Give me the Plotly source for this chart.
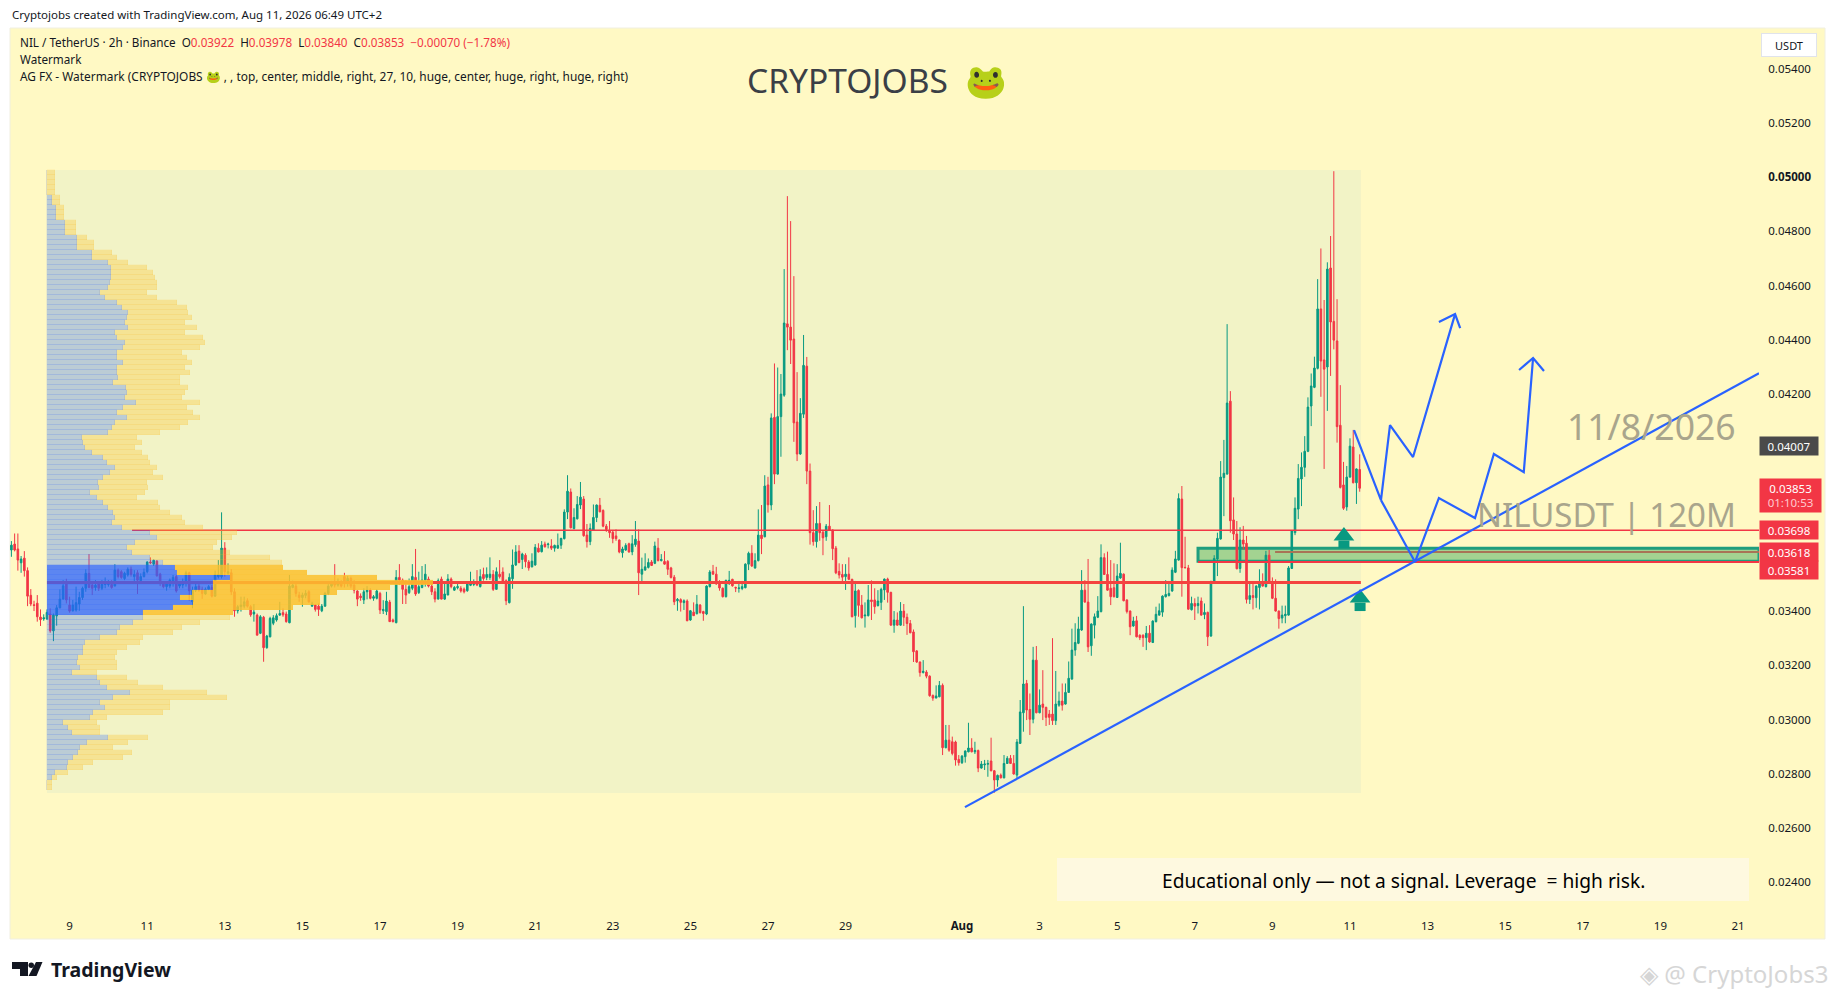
import pandas as pd
import plotly.graph_objects as go

# 2h candles, prices in 1e-5 USDT
opens = [
    3625,3647,3629,3578,3595,3549,3458,3423,3429,3378,
    3371,3371,3389,3327,3382,3412,3444,3502,3422,3401,
    3404,3426,3450,3484,3539,3496,3487,3500,3484,3498,
    3498,3498,3492,3551,3545,3520,3533,3554,3527,3541,
    3512,3527,3545,3581,3573,3584,3536,3502,3490,3492,
    3502,3527,3492,3496,3508,3541,3434,3477,3492,3480,
    3463,3480,3487,3455,3527,3527,3632,3539,3541,3471,
    3401,3416,3418,3438,3416,3389,3385,3318,3377,3265,
    3305,3355,3367,3385,3394,3389,3357,3487,3492,3459,
    3450,3458,3471,3418,3422,3418,3401,3418,3465,3492,
    3508,3496,3505,3527,3508,3520,3496,3474,3455,3441,
    3471,3477,3447,3447,3465,3401,3398,3433,3367,3357,
    3524,3514,3480,3468,3484,3524,3468,3487,3514,3518,
    3492,3471,3444,3518,3444,3459,3518,3477,3486,3484,
    3481,3475,3495,3498,3508,3490,3535,3524,3524,3535,3480,
    3536,3544,3512,3431,3519,3570,3621,3590,3606,3581,
    3563,3570,3632,3619,3647,3645,3640,3632,3632,3643,
    3667,3765,3839,3704,3740,3791,3813,3680,3656,3699,
    3745,3790,3771,3713,3696,3691,3677,3662,3615,3625,
    3648,3618,3645,3658,3536,3551,3561,3581,3576,3632,
    3586,3583,3583,3559,3525,3438,3442,3431,3437,3367,
    3396,3390,3422,3398,3389,3490,3546,3536,3500,3484,
    3453,3511,3517,3487,3483,3483,3486,3573,3613,3559,
    3586,3680,3674,3865,3791,4114,3905,4117,4196,4459,
    4447,4403,4097,3979,4126,4303,3916,3689,3656,3723,
    3691,3674,3713,3699,3632,3546,3535,3527,3536,3517,
    3383,3476,3422,3382,3383,3441,3441,3420,3432,3478,
    3518,3469,3348,3367,3348,3400,3377,3354,3323,3253,
    3212,3173,3175,3160,3089,3079,3084,3126,2896,2924,
    2918,2917,2853,2841,2863,2881,2895,2881,2886,2821,
    2833,2835,2847,2811,2777,2795,2785,2838,2857,2838,
    2795,2912,3025,3133,3037,3001,3219,3025,3057,3045,
    3020,3020,2996,3053,3068,3057,3100,3149,3256,3281,
    3330,3477,3433,3272,3348,3377,3398,3597,3535,3484,
    3486,3450,3522,3536,3441,3400,3345,3364,3311,3311,
    3302,3318,3284,3361,3385,3396,3453,3457,3474,3543,
    3588,3813,3561,3559,3405,3428,3420,3437,3387,3395,
    3308,3509,3592,3666,3892,3905,4174,3736,3684,3557,
    3662,3650,3443,3457,3449,3487,3500,3490,3606,3504,
    3447,3400,3374,3383,3385,3557,3689,3776,3887,3930,
    3989,4156,4225,4295,4514,4326,4300,4665,4468,4396,
    4085,3865,3784,3894,4005,3873,3922,
]
highs = [
    3658,3686,3686,3603,3621,3561,3481,3438,3459,3406,
    3388,3406,3410,3391,3422,3480,3514,3519,3453,3441,
    3490,3471,3490,3554,3610,3508,3514,3508,3514,3524,
    3514,3514,3573,3557,3551,3545,3561,3564,3551,3551,
    3539,3557,3583,3598,3590,3588,3541,3508,3508,3520,
    3533,3533,3508,3520,3549,3545,3490,3500,3502,3490,
    3487,3496,3496,3549,3588,3764,3654,3576,3555,3484,
    3422,3453,3453,3447,3422,3426,3391,3385,3382,3312,
    3379,3385,3391,3434,3410,3398,3533,3512,3500,3471,
    3468,3477,3477,3434,3426,3428,3426,3471,3508,3511,
    3573,3520,3514,3541,3529,3527,3514,3477,3465,3484,
    3492,3484,3459,3480,3471,3440,3471,3441,3372,3551,
    3573,3520,3514,3520,3573,3629,3545,3566,3573,3527,
    3502,3484,3520,3527,3502,3536,3524,3492,3500,3492,
    3487,3508,3545,3517,3551,3554,3560,3561,3598,3551,3561,
    3588,3561,3517,3539,3627,3643,3643,3615,3613,3588,
    3613,3647,3650,3658,3656,3652,3665,3645,3686,3670,
    3775,3901,3852,3779,3824,3876,3824,3721,3723,3793,
    3793,3817,3775,3721,3732,3699,3701,3664,3637,3650,
    3652,3680,3732,3701,3597,3613,3594,3588,3656,3669,
    3610,3621,3588,3563,3533,3448,3447,3443,3443,3404,
    3432,3459,3426,3401,3495,3551,3570,3563,3514,3487,
    3516,3548,3519,3490,3511,3511,3576,3619,3643,3613,
    3775,3791,3901,3895,4129,4313,4298,4274,4661,4930,
    4838,4635,4281,4185,4418,4337,3944,3772,3787,3802,
    3699,3721,3791,3701,3640,3576,3573,3573,3598,3519,
    3511,3480,3459,3432,3496,3513,3484,3477,3486,3520,
    3523,3471,3400,3395,3433,3426,3391,3367,3332,3256,
    3214,3219,3182,3163,3092,3126,3142,3133,2980,2980,
    2937,2922,2869,2869,2886,2988,2931,2918,2889,2847,
    2851,2851,2933,2814,2797,2801,2869,2865,2869,2869,
    2928,3072,3418,3146,3096,3268,3271,3111,3182,3047,
    3035,3300,3179,3103,3133,3133,3214,3335,3355,3379,
    3551,3514,3592,3355,3391,3455,3646,3613,3619,3588,
    3576,3573,3652,3539,3443,3402,3379,3382,3314,3314,
    3345,3348,3366,3416,3428,3458,3514,3511,3561,3622,
    3834,3861,3674,3570,3453,3447,3453,3450,3428,3398,
    3512,3606,3689,3953,4031,4458,4211,3819,3732,3709,
    3714,3677,3508,3508,3495,3554,3539,3622,3625,3524,
    3517,3402,3420,3420,3566,3699,3819,3942,3985,4045,
    4188,4276,4338,4624,4737,4547,4686,4783,5022,4550,
    4233,3950,3935,4037,4068,3926,3978,
]
lows = [
    3600,3620,3549,3541,3527,3418,3418,3400,3361,3345,
    3364,3367,3320,3289,3346,3410,3443,3428,3394,3398,
    3398,3401,3441,3471,3484,3459,3475,3474,3477,3484,
    3490,3482,3492,3520,3519,3514,3527,3527,3508,3463,
    3502,3524,3539,3573,3566,3527,3492,3484,3475,3484,
    3490,3468,3484,3484,3490,3438,3410,3470,3471,3445,
    3459,3477,3450,3453,3520,3520,3527,3533,3459,3379,
    3391,3398,3410,3413,3379,3361,3311,3315,3213,3261,
    3303,3348,3361,3382,3379,3357,3355,3484,3453,3434,
    3416,3447,3431,3416,3398,3382,3396,3416,3459,3487,
    3487,3490,3487,3487,3490,3484,3465,3418,3438,3426,
    3443,3443,3438,3443,3389,3389,3385,3361,3358,3355,
    3496,3426,3426,3463,3477,3456,3463,3484,3490,3487,
    3459,3432,3443,3443,3441,3459,3484,3475,3480,3468,
    3465,3471,3492,3492,3492,3487,3512,3514,3515,3474,3480,
    3520,3502,3422,3428,3482,3566,3576,3555,3561,3549,
    3561,3567,3616,3616,3634,3631,3625,3619,3630,3629,
    3664,3739,3705,3701,3738,3776,3674,3634,3643,3696,
    3728,3764,3709,3692,3670,3650,3659,3613,3597,3622,
    3615,3606,3637,3459,3504,3549,3557,3566,3573,3583,
    3583,3571,3533,3520,3422,3401,3398,3404,3363,3364,
    3382,3388,3391,3364,3385,3487,3534,3497,3475,3450,
    3450,3496,3490,3470,3468,3477,3484,3551,3563,3556,
    3583,3610,3672,3763,3772,3868,3903,3969,4190,4362,
    4311,4024,3953,3976,4112,3868,3645,3641,3634,3659,
    3606,3659,3696,3588,3536,3520,3506,3478,3514,3377,
    3339,3379,3373,3339,3380,3367,3390,3417,3404,3441,
    3431,3346,3320,3346,3346,3345,3312,3318,3212,3209,
    3158,3170,3152,3084,3069,3079,3082,2869,2894,2881,
    2868,2830,2830,2836,2841,2879,2879,2873,2806,2819,
    2814,2789,2809,2730,2752,2783,2783,2836,2836,2797,
    2783,2910,2955,2998,2943,2986,3023,3023,2998,2976,
    2980,2980,2980,3047,3033,3055,3098,3147,3235,3278,
    3327,3431,3249,3235,3299,3374,3395,3533,3475,3422,
    3450,3448,3519,3436,3391,3311,3342,3303,3293,3268,
    3256,3283,3282,3358,3383,3379,3450,3454,3471,3540,
    3586,3453,3557,3405,3402,3367,3391,3383,3370,3271,
    3305,3507,3529,3663,3750,3903,3689,3662,3554,3541,
    3627,3428,3426,3406,3412,3406,3490,3487,3500,3444,
    3398,3335,3355,3355,3383,3555,3680,3739,3787,3895,
    3986,4082,4222,4291,4190,3924,4138,4267,4365,4021,
    3852,3773,3770,3892,3871,3795,3840,
]
closes = [
    3643,3625,3588,3592,3549,3455,3426,3421,3379,3368,
    3375,3395,3327,3385,3412,3444,3493,3441,3400,3422,
    3431,3450,3484,3539,3487,3484,3495,3484,3498,3501,
    3502,3487,3551,3527,3524,3539,3554,3535,3535,3514,
    3527,3543,3581,3578,3587,3530,3502,3490,3500,3514,
    3524,3474,3500,3508,3541,3475,3477,3490,3477,3465,
    3480,3490,3455,3535,3535,3632,3545,3545,3471,3401,
    3416,3422,3434,3418,3386,3396,3311,3379,3265,3308,
    3373,3375,3383,3391,3386,3361,3492,3496,3465,3450,
    3459,3465,3434,3426,3406,3406,3418,3465,3492,3500,
    3496,3508,3492,3508,3520,3492,3477,3444,3450,3471,
    3477,3447,3453,3474,3404,3406,3437,3361,3361,3524,
    3514,3480,3459,3490,3527,3463,3490,3514,3536,3492,
    3471,3444,3512,3444,3463,3518,3490,3487,3490,3474,
    3471,3500,3500,3502,3496,3527,3520,3535,3536,3480,3545,
    3527,3505,3438,3524,3570,3618,3579,3610,3582,3559,
    3584,3635,3618,3643,3637,3647,3632,3642,3642,3668,
    3765,3842,3707,3745,3793,3820,3678,3656,3705,3745,
    3791,3766,3713,3701,3689,3667,3667,3618,3629,3642,
    3618,3648,3665,3541,3554,3563,3579,3568,3640,3586,
    3590,3573,3554,3524,3434,3443,3432,3438,3364,3401,
    3383,3425,3394,3391,3492,3544,3536,3500,3485,3453,
    3513,3513,3493,3485,3485,3490,3573,3613,3566,3586,
    3680,3667,3861,3792,4112,3905,4117,4200,4462,4447,
    4399,4094,3979,4129,4306,3916,3689,3656,3723,3689,
    3670,3713,3699,3630,3541,3533,3525,3536,3517,3379,
    3474,3421,3375,3385,3441,3435,3416,3437,3480,3518,
    3469,3348,3367,3348,3400,3377,3354,3320,3250,3212,
    3173,3178,3160,3088,3079,3087,3126,2896,2924,2887,
    2875,2851,2841,2865,2884,2895,2881,2886,2821,2836,
    2836,2838,2811,2777,2794,2785,2838,2857,2838,2799,
    2917,3028,3131,3035,3001,3219,3025,3053,3045,3008,
    3008,2996,3057,3068,3053,3100,3152,3256,3284,3334,
    3477,3433,3268,3352,3379,3400,3597,3535,3477,3453,
    3453,3529,3539,3438,3398,3342,3363,3305,3302,3302,
    3318,3286,3363,3388,3401,3455,3461,3465,3551,3592,
    3815,3560,3560,3407,3428,3418,3428,3385,3395,3305,
    3509,3594,3668,3894,3908,4167,3733,3684,3556,3662,
    3647,3443,3457,3450,3492,3500,3492,3606,3502,3447,
    3400,3372,3385,3388,3559,3696,3779,3889,3930,3989,
    4152,4230,4296,4514,4322,4292,4661,4466,4399,4080,
    3856,3779,3894,4008,3873,3924,3853,
]

# volume profile rows, same price unit
profile_prices = [
    5017,4999,4980,4962,4943,4925,4906,4888,4870,4851,
    4833,4814,4796,4777,4759,4740,4722,4703,4685,4667,
    4648,4630,4611,4593,4574,4556,4538,4519,4501,4482,
    4464,4445,4427,4408,4390,4372,4353,4335,4316,4298,
    4279,4261,4243,4224,4206,4187,4169,4150,4132,4113,
    4095,4077,4058,4040,4021,4003,3984,3966,3947,3929,
    3911,3892,3874,3855,3837,3818,3800,3782,3763,3745,
    3726,3708,3689,3671,3652,3634,3616,3597,3579,3560,
    3542,3523,3505,3486,3468,3450,3431,3413,3394,3376,
    3358,3339,3321,3302,3284,3265,3247,3228,3210,3191,
    3173,3155,3136,3118,3099,3081,3063,3044,3026,3007,
    2989,2970,2952,2933,2915,2897,2878,2860,2841,2823,
    2804,2786,2768,2749,
]
profile_up = [
    0,0,0,0,0,5,5,9,9,9,
    18,18,18,30,30,30,45,45,61,64,
    64,64,63,61,53,58,70,75,81,80,
    78,81,68,70,78,76,70,70,76,70,
    70,71,66,79,80,78,89,76,70,80,
    68,65,61,35,36,38,45,56,60,68,
    63,56,51,52,43,50,56,61,66,68,
    65,75,103,110,88,80,85,103,116,128,
    130,183,166,166,145,133,146,126,96,96,
    86,73,70,53,38,36,36,31,30,33,
    25,50,53,60,83,66,53,58,46,43,
    16,21,25,61,40,33,31,26,21,20,
    8,5,0,0,
]
profile_down = [
    8,8,8,8,8,8,8,8,8,8,
    11,11,11,10,17,17,20,25,20,36,
    42,44,47,49,47,52,60,65,60,65,
    60,69,70,86,80,77,65,70,69,68,
    73,62,67,62,58,57,64,64,76,73,
    73,68,52,55,59,50,50,45,43,42,
    43,60,49,49,55,40,55,52,57,67,
    73,81,87,75,82,86,98,120,119,108,
    130,147,220,177,145,140,127,120,90,87,
    67,62,56,43,55,44,34,37,40,37,
    25,30,38,56,77,114,70,65,70,17,
    34,32,28,40,41,33,54,50,25,16,
    13,5,5,5,
]
value_area_high = 3565
value_area_low = 3385

level_poc = 3505
level_resistance = 3698
level_zone_top = 3618
level_zone_bottom = 3581

trend_dates = ["2026-08-01 01:50", "2026-08-21 13:00"]
trend_prices = [2677, 4277]
path_a_dates = ["2026-08-11 02:30", "2026-08-11 19:10", "2026-08-12 00:45", "2026-08-12 15:00", "2026-08-13 17:00"]
path_a_prices = [4067, 3809, 4086, 3968, 4495]
head_a_dates = ["2026-08-13 07:00", "2026-08-13 17:00", "2026-08-13 20:10"]
head_a_prices = [4466, 4495, 4443]
path_b_dates = ["2026-08-11 19:10", "2026-08-12 16:15", "2026-08-13 07:00", "2026-08-14 05:20", "2026-08-14 17:00", "2026-08-15 11:30", "2026-08-15 17:15"]
path_b_prices = [3809, 3581, 3817, 3743, 3979, 3912, 4333]
head_b_dates = ["2026-08-15 08:35", "2026-08-15 17:15", "2026-08-16 00:00"]
head_b_prices = [4289, 4333, 4285]

# green up arrows: time, stem bottom, stem top, head centre
arrow_dates = ["2026-08-10 20:15", "2026-08-11 06:15"]
arrow_tails = [3632, 3400]
arrow_necks = [3660, 3431]
arrow_heads = [3677, 3448]

date_ticks = ["2026-07-09", "2026-07-11", "2026-07-13", "2026-07-15", "2026-07-17", "2026-07-19", "2026-07-21",
              "2026-07-23", "2026-07-25", "2026-07-27", "2026-07-29", "2026-08-01", "2026-08-03", "2026-08-05",
              "2026-08-07", "2026-08-09", "2026-08-11", "2026-08-13", "2026-08-15", "2026-08-17", "2026-08-19",
              "2026-08-21"]
date_labels = ["9", "11", "13", "15", "17", "19", "21", "23", "25", "27", "29", "<b>Aug</b>", "3", "5", "7", "9",
               "11", "13", "15", "17", "19", "21"]
price_ticks = [0.054, 0.052, 0.05, 0.048, 0.046, 0.044, 0.042, 0.034, 0.032, 0.03, 0.028, 0.026, 0.024]
price_labels = ["0.05400", "0.05200", "<b>0.05000</b>", "0.04800", "0.04600", "0.04400", "0.04200", "0.03400",
                "0.03200", "0.03000", "0.02800", "0.02600", "0.02400"]

UP = "#089981"
DOWN = "#F23645"
BLUE = "#2962FF"
FONT = "Noto Sans"
X_START = "2026-07-07 11:08"
X_END = "2026-08-21 13:00"
BOX_START = "2026-07-08 10:00"
BOX_END = "2026-08-11 06:43"

# plot area in page pixels, the helpers below are only for the decoration around it
LEFT, RIGHT, TOP, BOTTOM = 10, 1759, 28, 908


def paper_x(px):
    return (px - LEFT) / (RIGHT - LEFT)


def paper_y(py):
    return (BOTTOM - py) / (BOTTOM - TOP)


def price(values):
    return [v / 100000 for v in values]


def logo_path(points):
    return "M " + " L ".join(f"{paper_x(x)} {paper_y(y)}" for x, y in points) + " Z"


times = pd.date_range("2026-07-07 12:00", periods=len(closes), freq="2h")

fig = go.Figure()

fig.add_trace(go.Candlestick(
    x=times, open=price(opens), high=price(highs), low=price(lows), close=price(closes),
    increasing=dict(line=dict(color=UP, width=1), fillcolor=UP),
    decreasing=dict(line=dict(color=DOWN, width=1), fillcolor=DOWN),
    whiskerwidth=0, showlegend=False, hoverinfo="skip",
))

# levels
fig.add_trace(go.Scatter(x=[BOX_START, BOX_END], y=price([level_poc, level_poc]), mode="lines",
                         line=dict(color="#F4433F", width=3), showlegend=False))
fig.add_trace(go.Scatter(x=["2026-07-10 14:38", X_END], y=price([level_resistance, level_resistance]), mode="lines",
                         line=dict(color=DOWN, width=1.5), showlegend=False))
fig.add_trace(go.Scatter(x=["2026-08-07 02:00", X_END], y=price([level_zone_bottom, level_zone_bottom]), mode="lines",
                         line=dict(color=DOWN, width=2), showlegend=False))
fig.add_trace(go.Scatter(x=["2026-08-09 01:40", X_END], y=price([level_zone_top, level_zone_top]), mode="lines",
                         line=dict(color="#A87456", width=2), showlegend=False))

# up arrows
for date, tail, neck, head in zip(arrow_dates, arrow_tails, arrow_necks, arrow_heads):
    fig.add_trace(go.Scatter(x=[date, date], y=price([tail, neck]), mode="lines",
                             line=dict(color=UP, width=11), showlegend=False))
    fig.add_trace(go.Scatter(x=[date], y=price([head]), mode="markers",
                             marker=dict(symbol="triangle-up", size=18, color=UP), showlegend=False))

# drawn trend line and projected paths
for xs, ys in [(trend_dates, trend_prices), (path_a_dates, path_a_prices), (head_a_dates, head_a_prices),
               (path_b_dates, path_b_prices), (head_b_dates, head_b_prices)]:
    fig.add_trace(go.Scatter(x=xs, y=price(ys), mode="lines", line=dict(color=BLUE, width=2.2), showlegend=False))

# volume profile on its own overlaid axis
in_value_area = [value_area_low <= p <= value_area_high for p in profile_prices]
fig.add_trace(go.Bar(
    x=profile_up, y=price(profile_prices), orientation="h", xaxis="x2", width=0.0001844, showlegend=False,
    marker=dict(color=["rgba(41,98,255,0.75)" if v else "rgba(41,98,255,0.27)" for v in in_value_area],
                line=dict(color="rgba(41,98,255,0.15)", width=0.6)),
))
fig.add_trace(go.Bar(
    x=profile_down, y=price(profile_prices), orientation="h", xaxis="x2", width=0.0001844, showlegend=False,
    marker=dict(color=["rgba(251,192,45,0.85)" if v else "rgba(251,192,45,0.32)" for v in in_value_area],
                line=dict(color="rgba(251,192,45,0.15)", width=0.6)),
))

shapes = [
    # pane background runs under the axis labels too
    dict(type="rect", xref="paper", yref="paper", x0=0, x1=paper_x(1825), y0=paper_y(939), y1=1,
         fillcolor="#FFF9C4", line=dict(color="#F0EFE0", width=1), layer="below"),
    dict(type="rect", xref="x", yref="y", x0=BOX_START, x1=BOX_END, y0=0.02729, y1=0.05026,
         fillcolor="#F2F3C6", line=dict(width=0), layer="below"),
    dict(type="rect", xref="x", yref="y", x0="2026-08-07 02:00", x1=X_END, y0=0.03584, y1=0.03632,
         fillcolor="#A3D391", line=dict(color="#1E9E7E", width=3), layer="below"),
    dict(type="rect", xref="paper", yref="paper", x0=paper_x(1057), x1=paper_x(1749), y0=paper_y(901), y1=paper_y(858),
         fillcolor="#FEF9E0", line=dict(width=0), layer="below"),
    # TradingView mark
    dict(type="path", xref="paper", yref="paper", fillcolor="#131722", line=dict(width=0),
         path=logo_path([(12, 962), (28, 962), (28, 976), (20, 976), (20, 969), (12, 969)])),
    dict(type="path", xref="paper", yref="paper", fillcolor="#131722", line=dict(width=0),
         path=logo_path([(36, 962), (42.5, 962), (36.5, 976), (28.5, 976)])),
    dict(type="circle", xref="paper", yref="paper", fillcolor="#131722", line=dict(width=0),
         x0=paper_x(28.5), x1=paper_x(34), y0=paper_y(968), y1=paper_y(962.5)),
]

annotations = []


def add_text(px, py, text, size, color="#131722", anchor="left", **kwargs):
    annotations.append(dict(xref="paper", yref="paper", x=paper_x(px), y=paper_y(py), text=text, showarrow=False,
                            xanchor=anchor, yanchor="middle", align=anchor,
                            font=dict(family=FONT, size=size, color=color), **kwargs))


def red(text):
    return f'<span style="color:{DOWN}">{text}</span>'


add_text(10, 15, "Cryptojobs created with TradingView.com, Aug 11, 2026 06:49 UTC+2", 11.5)
add_text(18, 42, "NIL / TetherUS · 2h · Binance  O" + red("0.03922") + "  H" + red("0.03978") + "  L" + red("0.03840")
         + "  C" + red("0.03853") + "  " + red("−0.00070 (−1.78%)"), 11.7)
add_text(18, 59, "Watermark", 11.7)
add_text(18, 76, "AG FX - Watermark (CRYPTOJOBS 🐸 , , top, center, middle, right, 27, 10, huge, center, huge, right, huge, right)", 11.9)
add_text(877, 80, "CRYPTOJOBS  🐸", 33.5, "#3B3F46", "center")
add_text(1738, 426, "11/8/2026", 35.5, "#A9A58C", "right")
add_text(1738, 514, "NILUSDT | 120M", 33, "#A9A58C", "right")
add_text(1403, 880, "Educational only — not a signal. Leverage  = high risk.", 19.2, "#000000", "center")
add_text(1789, 45, "USDT", 11, "#131722", "center", bgcolor="#FFFFFF", bordercolor="#E0E3EB", borderwidth=1,
         width=52, height=20)
add_text(49, 969, "<b>TradingView</b>", 19.5, "#131722")
add_text(1830, 973, "◈ @ CryptoJobs3", 24, "#D6D6D6", "right")

# price tags on the axis
tags = [(0.04007, "0.04007", "#4A4A4A", 0), (0.03698, "0.03698", DOWN, 0), (0.03618, "0.03618", DOWN, 0),
        (0.03581, "0.03581", DOWN, -8)]
for value, label, colour, shift in tags:
    annotations.append(dict(xref="paper", yref="y", x=paper_x(1759), y=value, text=label, showarrow=False,
                            xanchor="left", yanchor="middle", yshift=shift, bgcolor=colour, width=56, height=16,
                            font=dict(family=FONT, size=11.5, color="#FFFFFF")))
annotations.append(dict(xref="paper", yref="y", x=paper_x(1759), y=0.03853, yshift=-7, showarrow=False,
                        text='0.03853<br><span style="color:#FFC9CE">01:10:53</span>', xanchor="left",
                        yanchor="middle", bgcolor=DOWN, width=59, height=31,
                        font=dict(family=FONT, size=11.5, color="#FFFFFF")))

fig.update_layout(
    width=1835, height=1000,
    margin=dict(l=LEFT, r=1835 - RIGHT, t=TOP, b=1000 - BOTTOM, autoexpand=False),
    paper_bgcolor="#FFFFFF", plot_bgcolor="rgba(0,0,0,0)",
    barmode="stack", bargap=0, boxgap=0.3, hovermode=False, showlegend=False,
    xaxis=dict(type="date", range=[X_START, X_END], rangeslider=dict(visible=False), showgrid=False, zeroline=False,
               tickmode="array", tickvals=date_ticks, ticktext=date_labels, ticks="outside", ticklen=7,
               tickcolor="rgba(0,0,0,0)", tickfont=dict(family=FONT, size=11.5, color="#131722"), showline=False),
    xaxis2=dict(range=[-37, 1712], overlaying="x", visible=False),
    yaxis=dict(side="right", range=[0.02305, 0.0555], showgrid=False, zeroline=False, tickmode="array",
               tickvals=price_ticks, ticktext=price_labels, ticks="outside", ticklen=6, tickcolor="rgba(0,0,0,0)",
               tickfont=dict(family=FONT, size=11.5, color="#131722"), showline=False),
    shapes=shapes, annotations=annotations,
)

fig.write_html("out.html", config=dict(displayModeBar=False), post_script="document.body.style.margin='0';")
